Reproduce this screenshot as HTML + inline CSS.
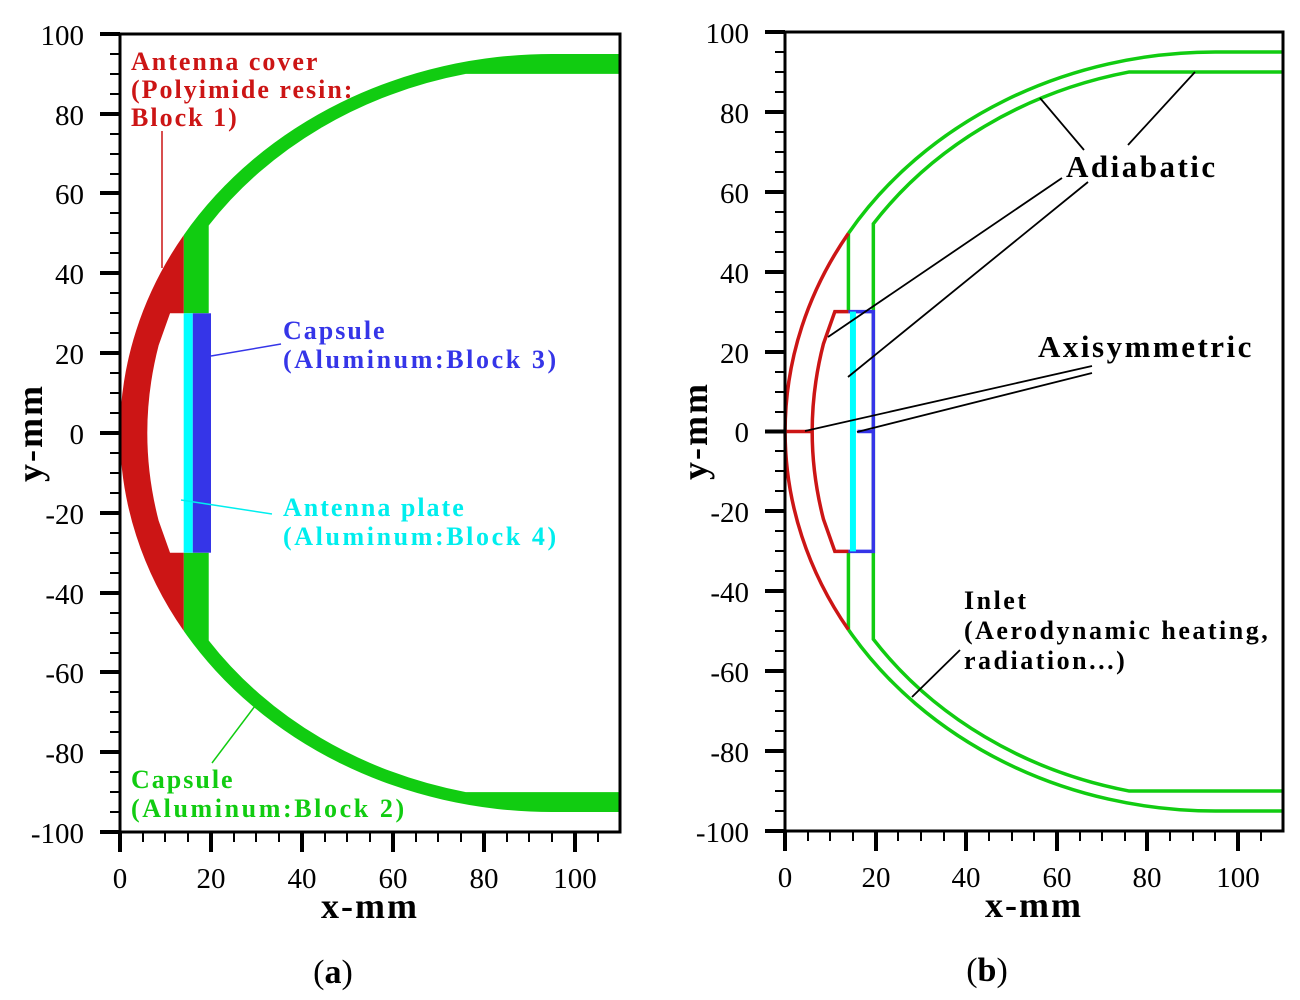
<!DOCTYPE html>
<html><head><meta charset="utf-8"><style>
body{margin:0;background:#fff;}
svg{display:block;font-family:"Liberation Serif",serif;}
.b{font-weight:bold;}
</style></head><body>
<svg width="1300" height="1000" viewBox="0 0 1300 1000">
<!-- LEFT PLOT -->
<g transform="translate(120,433) scale(4.55,-3.99)">
  <path d="M14,49.6 A95,95 0 0 0 95,95 L110,95 L110,90 L76,90 A92,92 0 0 1 19.5,52 L19.5,30 L14,30 Z" fill="#11cc11"/>
  <g transform="scale(1,-1)">
    <path d="M14,49.6 A95,95 0 0 0 95,95 L110,95 L110,90 L76,90 A92,92 0 0 1 19.5,52 L19.5,30 L14,30 Z" fill="#11cc11"/>
  </g>
  <path d="M0,0 A95,95 0 0 0 14,49.6 L14,30 L11,30 L8.5,22 Q3.5,0 8.5,-22 L11,-30 L14,-30 L14,-49.6 A95,95 0 0 0 0,0 Z" fill="#cc1515"/>
  <rect x="14" y="-30" width="2" height="60" fill="#00ffff"/>
  <rect x="16" y="-30" width="4" height="60" fill="#3535e8"/>
</g>
<rect x="120" y="34" width="500" height="798" stroke-width="3" stroke="#000" fill="none"/>
<g stroke="#000" stroke-width="2">
  <path d="M100,34H120M100,114H120M100,193H120M100,273H120M100,353H120M100,433H120M100,513H120M100,593H120M100,672H120M100,752H120M100,832H120" stroke-width="4"/>
  <path d="M110,54H120M110,74H120M110,94H120M110,134H120M110,154H120M110,174H120M110,213H120M110,233H120M110,253H120M110,293H120M110,313H120M110,333H120M110,373H120M110,393H120M110,413H120M110,453H120M110,473H120M110,493H120M110,533H120M110,553H120M110,573H120M110,613H120M110,633H120M110,653H120M110,692H120M110,712H120M110,732H120M110,772H120M110,792H120M110,812H120"/>
  <path d="M120,832V852M211,832V852M302,832V852M393,832V852M484,832V852M575,832V852" stroke-width="4"/>
  <path d="M143,832V842M165,832V842M188,832V842M234,832V842M256,832V842M279,832V842M325,832V842M347,832V842M370,832V842M416,832V842M438,832V842M461,832V842M507,832V842M529,832V842M552,832V842M598,832V842"/>
</g>
<g font-size="29" text-anchor="end" fill="#000">
<text x="84" y="45">100</text><text x="84" y="125">80</text><text x="84" y="204">60</text><text x="84" y="284">40</text><text x="84" y="364">20</text><text x="84" y="444">0</text><text x="84" y="524">-20</text><text x="84" y="604">-40</text><text x="84" y="683">-60</text><text x="84" y="763">-80</text><text x="84" y="843">-100</text>
</g>
<g font-size="29" text-anchor="middle" fill="#000">
<text x="120" y="888">0</text><text x="211" y="888">20</text><text x="302" y="888">40</text><text x="393" y="888">60</text><text x="484" y="888">80</text><text x="575" y="888">100</text>
</g>
<text x="370" y="918" font-size="36" class="b" text-anchor="middle" letter-spacing="2">x-mm</text>
<text transform="translate(42,433) rotate(-90)" font-size="36" class="b" text-anchor="middle" letter-spacing="2">y-mm</text>
<text x="333" y="983" font-size="34" text-anchor="middle">(<tspan class="b">a</tspan>)</text>
<g font-size="26" class="b" letter-spacing="2">
<text x="131" y="70" fill="#cc1515">Antenna cover</text>
<text x="131" y="98" fill="#cc1515">(Polyimide resin:</text>
<text x="131" y="126" fill="#cc1515">Block 1)</text>
<text x="283" y="339" fill="#3535e8">Capsule</text>
<text x="283" y="368" fill="#3535e8" letter-spacing="2.6">(Aluminum:Block 3)</text>
<text x="283" y="516" fill="#00eeee">Antenna plate</text>
<text x="283" y="545" fill="#00eeee" letter-spacing="2.6">(Aluminum:Block 4)</text>
<text x="131" y="788" fill="#11cc11">Capsule</text>
<text x="131" y="817" fill="#11cc11" letter-spacing="2.6">(Aluminum:Block 2)</text>
</g>
<path d="M162,131V268" stroke="#cc1515" stroke-width="1.5"/>
<path d="M281,344L211,356" stroke="#3535e8" stroke-width="1.5"/>
<path d="M272,514L181,500" stroke="#00eeee" stroke-width="1.5"/>
<path d="M212,763L255,706" stroke="#11cc11" stroke-width="1.5"/>

<!-- RIGHT PLOT -->
<g transform="translate(785,431.5) scale(4.53,-3.995)" fill="none" stroke-width="3.5">
  <path vector-effect="non-scaling-stroke" stroke="#11cc11" d="M14,49.6 A95,95 0 0 0 95,95 L110,95 M110,90 L76,90 A92,92 0 0 1 19.5,52 L19.5,-52 A92,92 0 0 1 76,-90 L110,-90 M110,-95 L95,-95 A95,95 0 0 0 14,-49.6 M14,49.6 L14,30 M14,-30 L14,-49.6"/>
  <path vector-effect="non-scaling-stroke" stroke="#cc1515" d="M14,-49.6 A95,95 0 0 0 14,49.6 M14,30 L11,30 L8.5,22 Q3.5,0 8.5,-22 L11,-30 L14,-30 M0,0 L6,0"/>
  <path vector-effect="non-scaling-stroke" stroke="#3535e8" d="M14,30 L19.5,30 L19.5,-30 L14,-30 M16,0 L19.5,0"/>
  <path vector-effect="non-scaling-stroke" stroke="#00ffff" stroke-width="6" d="M15,30 L15,-30"/>
</g>
<rect x="785" y="32" width="498" height="799" stroke-width="3" stroke="#000" fill="none"/>
<g stroke="#000" stroke-width="2">
  <path d="M765,32H785M765,112H785M765,192H785M765,272H785M765,352H785M765,431.5H785M765,511H785M765,591H785M765,671H785M765,751H785M765,831H785" stroke-width="4"/>
  <path d="M775,52H785M775,72H785M775,92H785M775,132H785M775,152H785M775,172H785M775,212H785M775,232H785M775,252H785M775,292H785M775,312H785M775,332H785M775,372H785M775,392H785M775,412H785M775,451H785M775,471H785M775,491H785M775,531H785M775,551H785M775,571H785M775,611H785M775,631H785M775,651H785M775,691H785M775,711H785M775,731H785M775,771H785M775,791H785M775,811H785"/>
  <path d="M785,831V851M876,831V851M966,831V851M1057,831V851M1147,831V851M1238,831V851" stroke-width="4"/>
  <path d="M808,831V841M830,831V841M853,831V841M898,831V841M921,831V841M944,831V841M989,831V841M1012,831V841M1034,831V841M1080,831V841M1102,831V841M1125,831V841M1170,831V841M1193,831V841M1215,831V841M1261,831V841"/>
</g>
<g font-size="29" text-anchor="end" fill="#000">
<text x="749" y="43">100</text><text x="749" y="123">80</text><text x="749" y="203">60</text><text x="749" y="283">40</text><text x="749" y="363">20</text><text x="749" y="442">0</text><text x="749" y="522">-20</text><text x="749" y="602">-40</text><text x="749" y="682">-60</text><text x="749" y="762">-80</text><text x="749" y="842">-100</text>
</g>
<g font-size="29" text-anchor="middle" fill="#000">
<text x="785" y="887">0</text><text x="876" y="887">20</text><text x="966" y="887">40</text><text x="1057" y="887">60</text><text x="1147" y="887">80</text><text x="1238" y="887">100</text>
</g>
<text x="1034" y="917" font-size="36" class="b" text-anchor="middle" letter-spacing="2">x-mm</text>
<text transform="translate(707,431) rotate(-90)" font-size="36" class="b" text-anchor="middle" letter-spacing="2">y-mm</text>
<text x="987" y="981" font-size="34" text-anchor="middle">(<tspan class="b">b</tspan>)</text>
<g font-size="31" class="b" letter-spacing="2.5">
<text x="1066" y="177">Adiabatic</text>
<text x="1038" y="357">Axisymmetric</text>
</g>
<g font-size="26" class="b" letter-spacing="2.5">
<text x="964" y="609">Inlet</text>
<text x="964" y="639">(Aerodynamic heating,</text>
<text x="964" y="669">radiation...)</text>
</g>
<g stroke="#000" stroke-width="1.8">
<path d="M1040,98L1084,150M1195,72L1128,145M1062,178L828,337M1088,182L848,377M1092,366L805,431M1092,373L857,432M960,650L912,697"/>
</g>
</svg>
</body></html>
